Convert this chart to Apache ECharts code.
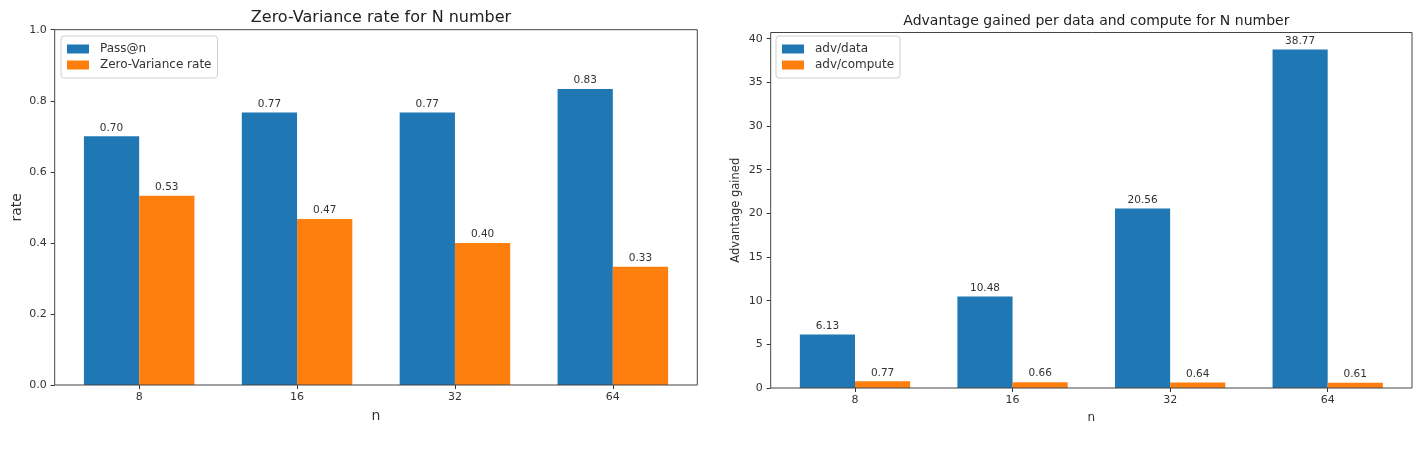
<!DOCTYPE html>
<html>
<head>
<meta charset="utf-8">
<script src="https://cdn.jsdelivr.net/npm/echarts@6/dist/echarts.min.js"></script>
<style>
html,body{margin:0;padding:0;background:#fff;}
#c{width:1419px;height:455px;}
</style>
</head>
<body>
<div id="c"></div>
<script>
// ---- data ----
const categories = ['8', '16', '32', '64'];
const passAtN = [0.700, 0.767, 0.767, 0.833];
const zeroVarRate = [0.533, 0.467, 0.400, 0.333];
const advData = [6.13, 10.48, 20.56, 38.77];
const advCompute = [0.77, 0.66, 0.64, 0.61];
const leftYTicks = [0, 0.2, 0.4, 0.6, 0.8, 1.0];
const rightYTicks = [0, 5, 10, 15, 20, 25, 30, 35, 40];

const BLUE = '#1f77b4', ORANGE = '#ff7f0e';
const FONT = 'DejaVu Sans';
const TXT = '#333';

// layout helpers (matplotlib-like frame with 0.535 category margin)
const frameL = {left: 54.7, top: 29.7, width: 642.6, height: 355.3};
const frameR = {left: 770.7, top: 32.5, width: 641.3, height: 355.5};
function inner(f) {
  const u = f.width / 4.07;
  return {left: f.left + 0.035 * u, top: f.top, width: 4 * u, height: f.height, u: u};
}
const inL = inner(frameL), inR = inner(frameR);

function labelOpt() {
  return {show: true, position: 'top', distance: 3, color: TXT, fontFamily: FONT, fontSize: 10.5,
          formatter: p => p.value.toFixed(2)};
}
function xAx(gi, name, nameSize, gap) {
  return {type: 'category', gridIndex: gi, data: categories, boundaryGap: true,
    axisLine: {show: false},
    axisTick: {show: true, alignWithLabel: true, length: 4, lineStyle: {color: '#333'}},
    axisLabel: {color: TXT, fontFamily: FONT, fontSize: 11, margin: 7},
    name: name, nameLocation: 'middle', nameGap: gap,
    nameTextStyle: {color: TXT, fontFamily: FONT, fontSize: nameSize}};
}
function legendOpt(names, left) {
  return {data: names, orient: 'vertical', left: left, top: 36,
    itemWidth: 22, itemHeight: 9, itemGap: 4, icon: 'rect',
    borderColor: '#d0d0d0', borderWidth: 1, borderRadius: 3, padding: [7, 6, 7, 6],
    textStyle: {color: TXT, fontFamily: FONT, fontSize: 12, padding: [0, 0, 0, 6]}};
}

const option = {
  animation: false,
  backgroundColor: '#fff',
  title: [
    {text: 'Zero-Variance rate for N number', left: frameL.left + frameL.width / 2, top: 5, textAlign: 'center',
     textStyle: {fontFamily: FONT, fontSize: 16, fontWeight: 'normal', color: '#222'}},
    {text: 'Advantage gained per data and compute for N number', left: frameR.left + frameR.width / 2, top: 9, textAlign: 'center',
     textStyle: {fontFamily: FONT, fontSize: 14, fontWeight: 'normal', color: '#222'}}
  ],
  legend: [
    legendOpt(['Pass@n', 'Zero-Variance rate'], 61),
    legendOpt(['adv/data', 'adv/compute'], 776)
  ],
  grid: [
    {left: inL.left, top: inL.top, width: inL.width, height: inL.height},
    {left: inR.left, top: inR.top, width: inR.width, height: inR.height},
    {left: frameL.left, top: frameL.top, width: frameL.width, height: frameL.height, show: true, z: 5,
     borderColor: '#444', borderWidth: 1, backgroundColor: 'transparent'},
    {left: frameR.left, top: frameR.top, width: frameR.width, height: frameR.height, show: true, z: 5,
     borderColor: '#444', borderWidth: 1, backgroundColor: 'transparent'}
  ],
  xAxis: [
    xAx(0, 'n', 14, 24),
    xAx(1, 'n', 12, 24),
    {type: 'value', gridIndex: 2, show: false, min: 0, max: 1},
    {type: 'value', gridIndex: 3, show: false, min: 0, max: 1}
  ],
  yAxis: [
    {type: 'value', gridIndex: 0, min: 0, max: 1, interval: 0.2, offset: inL.left - frameL.left,
     axisLine: {show: false}, splitLine: {show: false},
     axisTick: {show: true, length: 4, lineStyle: {color: '#333'}, customValues: leftYTicks},
     axisLabel: {color: TXT, fontFamily: FONT, fontSize: 11, margin: 8, formatter: v => v.toFixed(1), customValues: leftYTicks},
     name: 'rate', nameLocation: 'middle', nameGap: 30,
     nameTextStyle: {color: TXT, fontFamily: FONT, fontSize: 14}},
    {type: 'value', gridIndex: 1, min: 0, max: 38.77 * 1.05, offset: inR.left - frameR.left,
     axisLine: {show: false}, splitLine: {show: false},
     axisTick: {show: true, length: 4, lineStyle: {color: '#333'}, customValues: rightYTicks},
     axisLabel: {color: TXT, fontFamily: FONT, fontSize: 11, margin: 8, customValues: rightYTicks},
     name: 'Advantage gained', nameLocation: 'middle', nameGap: 29,
     nameTextStyle: {color: TXT, fontFamily: FONT, fontSize: 11.5}},
    {type: 'value', gridIndex: 2, show: false, min: 0, max: 1},
    {type: 'value', gridIndex: 3, show: false, min: 0, max: 1}
  ],
  series: [
    {name: 'Pass@n', type: 'bar', xAxisIndex: 0, yAxisIndex: 0, data: passAtN,
     barWidth: 0.35 * inL.u, barGap: '0%', itemStyle: {color: BLUE}, label: labelOpt()},
    {name: 'Zero-Variance rate', type: 'bar', xAxisIndex: 0, yAxisIndex: 0, data: zeroVarRate,
     barWidth: 0.35 * inL.u, barGap: '0%', itemStyle: {color: ORANGE}, label: labelOpt()},
    {name: 'adv/data', type: 'bar', xAxisIndex: 1, yAxisIndex: 1, data: advData,
     barWidth: 0.35 * inR.u, barGap: '0%', itemStyle: {color: BLUE}, label: labelOpt()},
    {name: 'adv/compute', type: 'bar', xAxisIndex: 1, yAxisIndex: 1, data: advCompute,
     barWidth: 0.35 * inR.u, barGap: '0%', itemStyle: {color: ORANGE}, label: labelOpt()}
  ]
};
const chart = echarts.init(document.getElementById('c'), null, {renderer: 'canvas'});
chart.setOption(option);
</script>
</body>
</html>
